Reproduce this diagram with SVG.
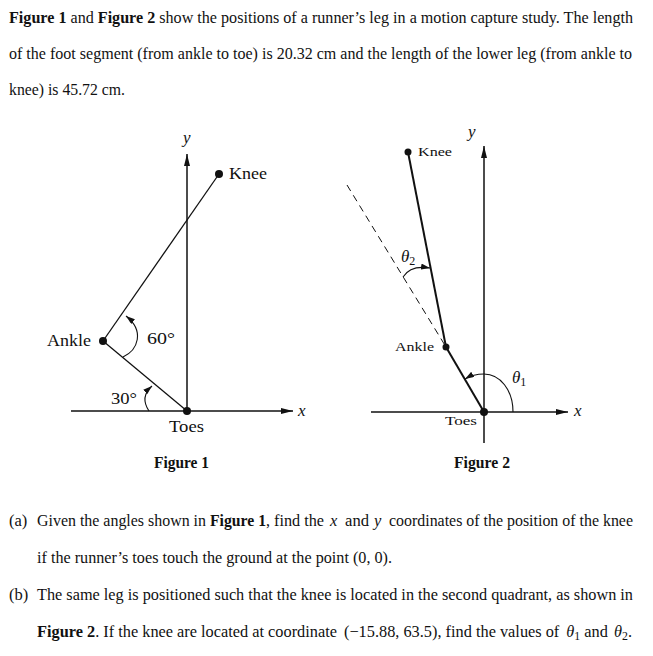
<svg xmlns="http://www.w3.org/2000/svg" width="653" height="656" viewBox="0 0 653 656">
<style>
  .t { font-family: "Liberation Serif", "Times New Roman", serif; font-size: 16.5px; fill: #111; }
  .b { font-weight: bold; }
  .i { font-style: italic; }
  .lbl { font-family: "Liberation Serif", "Times New Roman", serif; font-size: 17px; fill: #111; }
  .lbl2 { font-family: "Liberation Serif", "Times New Roman", serif; font-size: 13.5px; fill: #111; }
  .ax { stroke: #111; stroke-width: 1.5; fill: none; }
  .seg { stroke: #111; stroke-width: 1.3; fill: none; }
  .seg2 { stroke: #111; stroke-width: 2; fill: none; }
  .dash { stroke: #111; stroke-width: 1; fill: none; stroke-dasharray: 7 5; }
  .arc { stroke: #111; stroke-width: 1.1; fill: none; }
  .dot { fill: #111; }
</style>
<defs>
  <marker id="ah" viewBox="0 0 12 6" refX="12" refY="3" markerWidth="12" markerHeight="6" markerUnits="userSpaceOnUse" orient="auto">
    <path d="M0,0 L12,3 L0,6 z" fill="#111"/>
  </marker>
  <marker id="sh" viewBox="0 0 9 6" refX="9" refY="3" markerWidth="9" markerHeight="6" markerUnits="userSpaceOnUse" orient="auto">
    <path d="M0,0 L9,3 L0,6 z" fill="#111"/>
  </marker>
</defs>
<rect width="653" height="656" fill="#fff"/>

<g id="intro">
  <text class="t" x="9" y="23" textLength="624" lengthAdjust="spacingAndGlyphs"><tspan class="b">Figure 1</tspan> and <tspan class="b">Figure 2</tspan> show the positions of a runner’s leg in a motion capture study. The length</text>
  <text class="t" x="9" y="59" textLength="623" lengthAdjust="spacingAndGlyphs">of the foot segment (from ankle to toe) is 20.32 cm and the length of the lower leg (from ankle to</text>
  <text class="t" x="9" y="95" textLength="116" lengthAdjust="spacingAndGlyphs">knee) is 45.72 cm.</text>
</g>

<g id="connectors">
  <!-- Figure 1 axes -->
  <line class="ax" x1="187" y1="411" x2="187" y2="154" marker-end="url(#ah)"/>
  <line class="ax" x1="71" y1="411" x2="293" y2="411" marker-end="url(#ah)"/>
  <!-- Figure 1 leg -->
  <line class="seg" x1="103" y1="341" x2="219" y2="174"/>
  <line class="seg" x1="103" y1="341" x2="187" y2="411"/>
  <!-- Figure 1 angle arcs -->
  <path class="arc" d="M123,357 C138,350 145,331 126,316" marker-end="url(#sh)"/>
  <path class="arc" d="M149,411 C143,402 144,393 152,386" marker-end="url(#sh)"/>

  <!-- Figure 2 axes -->
  <line class="ax" x1="484" y1="443" x2="484" y2="146" marker-end="url(#ah)"/>
  <line class="ax" x1="371" y1="412" x2="568" y2="412" marker-end="url(#ah)"/>
  <!-- Figure 2 leg -->
  <line class="dash" x1="347" y1="185" x2="446" y2="347"/>
  <line class="seg2" x1="408" y1="152" x2="446" y2="347"/>
  <line class="seg2" x1="446" y1="347" x2="484" y2="412"/>
  <!-- Figure 2 angle arcs -->
  <path class="arc" d="M403,277 C408,269 418,266 430,268" marker-end="url(#sh)"/>
  <path class="arc" d="M513,412 C513,390 500,374 484,374 C476,374 470,376 465,379" marker-end="url(#sh)"/>
</g>

<g id="fig1-labels">
  <text class="lbl i" x="183" y="143" font-size="14">y</text>
  <text class="lbl i" x="298" y="416" font-size="14">x</text>
  <text class="lbl" x="147" y="344" textLength="28" lengthAdjust="spacingAndGlyphs">60°</text>
  <text class="lbl" x="111" y="404" textLength="26" lengthAdjust="spacingAndGlyphs">30°</text>
</g>
<g id="fig1-knee">
  <circle class="dot" cx="219" cy="174" r="4"/>
  <text class="lbl" x="229" y="179" textLength="38" lengthAdjust="spacingAndGlyphs">Knee</text>
</g>
<g id="fig1-ankle">
  <circle class="dot" cx="103" cy="341" r="4"/>
  <text class="lbl" x="47" y="346" textLength="44" lengthAdjust="spacingAndGlyphs">Ankle</text>
</g>
<g id="fig1-toes">
  <circle class="dot" cx="187" cy="411" r="4"/>
  <text class="lbl" x="169" y="432" textLength="35" lengthAdjust="spacingAndGlyphs">Toes</text>
</g>
<g id="fig1-caption">
  <text class="lbl b" x="154" y="468" font-size="15.5" textLength="55" lengthAdjust="spacingAndGlyphs">Figure 1</text>
</g>

<g id="fig2-labels">
  <text class="lbl i" x="468" y="137" font-size="13">y</text>
  <text class="lbl i" x="574" y="416" font-size="13">x</text>
  <text class="lbl i" x="401" y="262" font-size="14">θ<tspan font-style="normal" font-size="12" dy="3">2</tspan></text>
  <text class="lbl i" x="512" y="383" font-size="14">θ<tspan font-style="normal" font-size="12" dy="3">1</tspan></text>
</g>
<g id="fig2-knee">
  <circle class="dot" cx="408" cy="152" r="3.5"/>
  <text class="lbl2" x="418" y="156" textLength="34" lengthAdjust="spacingAndGlyphs">Knee</text>
</g>
<g id="fig2-ankle">
  <circle class="dot" cx="446" cy="347" r="3.5"/>
  <text class="lbl2" x="395" y="351" textLength="39" lengthAdjust="spacingAndGlyphs">Ankle</text>
</g>
<g id="fig2-toes">
  <circle class="dot" cx="484" cy="412" r="4"/>
  <text class="lbl2" x="445" y="425" textLength="32" lengthAdjust="spacingAndGlyphs">Toes</text>
</g>
<g id="fig2-caption">
  <text class="lbl b" x="454" y="468" font-size="15.5" textLength="56" lengthAdjust="spacingAndGlyphs">Figure 2</text>
</g>

<g id="questions">
  <text class="t" x="9" y="526">(a)</text>
  <text class="t" x="37" y="526" textLength="169" lengthAdjust="spacingAndGlyphs">Given the angles shown in</text>
  <text class="t b" x="210" y="526" textLength="56" lengthAdjust="spacingAndGlyphs">Figure 1</text>
  <text class="t" x="266" y="526" textLength="58" lengthAdjust="spacingAndGlyphs">, find the</text>
  <text class="t i" x="330" y="526">x</text>
  <text class="t" x="345" y="526" textLength="24" lengthAdjust="spacingAndGlyphs">and</text>
  <text class="t i" x="374" y="526">y</text>
  <text class="t" x="389" y="526" textLength="244" lengthAdjust="spacingAndGlyphs">coordinates of the position of the knee</text>
  <text class="t" x="37" y="563" textLength="355" lengthAdjust="spacingAndGlyphs">if the runner’s toes touch the ground at the point (0, 0).</text>
  <text class="t" x="9" y="600">(b)</text>
  <text class="t" x="37" y="600" textLength="596" lengthAdjust="spacingAndGlyphs">The same leg is positioned such that the knee is located in the second quadrant, as shown in</text>
  <text class="t" x="37" y="637" textLength="595" lengthAdjust="spacingAndGlyphs"><tspan class="b">Figure 2</tspan>. If the knee are located at coordinate <tspan dx="3">(−15.88, 63.5),</tspan> find the values of <tspan class="i" dx="3">θ</tspan><tspan font-size="12" dy="3">1</tspan><tspan dy="-3"> and </tspan><tspan class="i" dx="2">θ</tspan><tspan font-size="12" dy="3">2</tspan><tspan dy="-3">.</tspan></text>
</g>
</svg>
